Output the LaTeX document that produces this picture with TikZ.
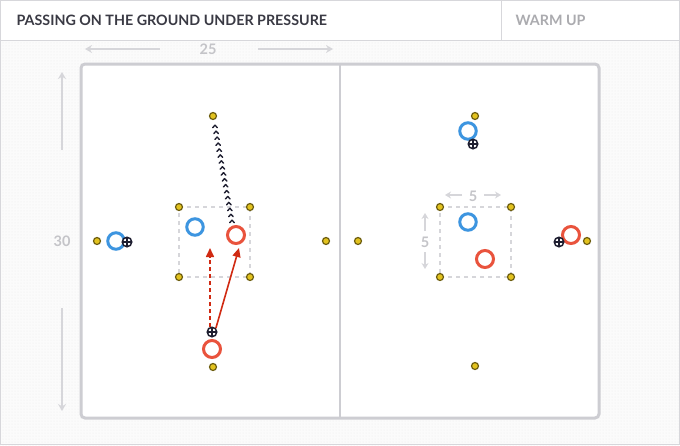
\documentclass[tikz,border=0pt]{standalone}
\usepackage{fontspec}
\setmainfont{Lato}
\usetikzlibrary{arrows.meta,patterns}
\definecolor{bluep}{HTML}{3D95E0}
\definecolor{redp}{HTML}{E9533D}
\definecolor{dimg}{HTML}{D6D6DA}
\definecolor{dimt}{HTML}{C4C4C8}
\definecolor{fieldline}{HTML}{CDCDD2}
\definecolor{conefill}{HTML}{E2C21E}
\definecolor{coneline}{HTML}{6E5E10}
\definecolor{ttl}{HTML}{3A3A44}
\definecolor{sub}{HTML}{ABABAF}
\definecolor{bgdot}{HTML}{ECECEE}
\definecolor{bgfill}{HTML}{FBFBFB}
\definecolor{ballc}{HTML}{1E1E30}
\definecolor{arrred}{HTML}{D02A12}
\tikzset{
  cone/.style={circle,draw=coneline,fill=conefill,line width=1.2pt,minimum size=7pt,inner sep=0pt},
  bluepl/.style={circle,draw=bluep,line width=3pt,minimum size=16.5pt,inner sep=0pt},
  redpl/.style={circle,draw=redp,line width=3pt,minimum size=17pt,inner sep=0pt},
  ballnode/.style={circle,draw=ballc,fill=white,line width=1.5pt,minimum size=9.5pt,inner sep=0pt,
    path picture={\draw[ballc,line width=1.2pt] (path picture bounding box.north) -- (path picture bounding box.south)
      (path picture bounding box.west) -- (path picture bounding box.east);}},
  dimarrow/.style={draw=dimg,line width=2pt,-{Stealth[length=7pt,width=8pt]}},
  dimlabel/.style={text=dimt,font=\fontsize{14.5}{14.5}\bfseries\selectfont,inner sep=1pt},
  gridsq/.style={draw=dimg,line width=1.6pt,dash pattern=on 4pt off 4pt},
  passarrow/.style={draw=arrred,line width=1.6pt,-{Triangle[length=9pt,width=8pt]}},
  chev/.style={draw=ballc,line width=1.4pt,line cap=round,line join=round}
}
\begin{document}
\begin{tikzpicture}[x=1pt,y=-1pt]
\useasboundingbox (0,0) rectangle (680,445);
% background
\fill[white] (0,0) rectangle (680,445);
\fill[bgfill] (0,40) rectangle (680,445);
\fill[pattern=dots,pattern color=bgdot] (0,40) rectangle (680,445);
\draw[fieldline!80,line width=1pt] (0.5,0.5) rectangle (679.5,444.5);
\draw[fieldline!80,line width=1pt] (0,40) -- (680,40);
\draw[fieldline!80,line width=1pt] (501,0) -- (501,40);
\node[anchor=west,text=ttl,font=\fontsize{14.3}{15}\bfseries\selectfont] (title) at (13,20) {PASSING ON THE GROUND UNDER PRESSURE};
\node[anchor=west,text=sub,font=\fontsize{14.3}{15}\bfseries\selectfont] (warm) at (512,20) {WARM UP};
% field
\draw[fieldline,fill=white,line width=3pt,rounded corners=4pt] (81,64) rectangle (599,418);
\draw[fieldline,line width=1.5pt] (340,64) -- (340,418);
% dimensions
\node[dimlabel] (d25) at (208,49) {25};
\coordinate (d25l) at (85,49); \coordinate (d25r) at (333,49);
\draw[dimarrow] (160,49) -- (d25l);
\draw[dimarrow] (258,49) -- (d25r);
\node[dimlabel] (d30) at (62,241) {30};
\coordinate (d30t) at (62,72); \coordinate (d30b) at (62,411);
\draw[dimarrow] (62,150) -- (d30t);
\draw[dimarrow] (62,308) -- (d30b);
% left grid
\coordinate (g1) at (179,207);
\coordinate (g2) at (250,207);
\coordinate (g3) at (250,277);
\coordinate (g4) at (179,277);
\draw[gridsq] (g1) -- (g2) -- (g3) -- (g4) -- cycle;
\node[cone] (c1) at (g1) {};
\node[cone] (c2) at (g2) {};
\node[cone] (c3) at (g3) {};
\node[cone] (c4) at (g4) {};
\node[cone] (lt) at (213,116) {};
\node[cone] (lb) at (213,367) {};
\node[cone] (ll) at (97,241) {};
\node[cone] (lr) at (326,241) {};
\node[bluepl] (b1) at (195,227) {};
\node[redpl] (r1) at (236,235) {};
\node[bluepl] (b2) at (116,241) {};
\node[ballnode] (ball2) at (127,242) {};
\node[redpl] (r2) at (212,349) {};
\node[ballnode] (ball1) at (212,332) {};
% chevrons (dribble)
\foreach \i in {0,...,16}{
  \pgfmathsetmacro{\px}{215+\i*(232-215)/16}
  \pgfmathsetmacro{\py}{126+\i*(221-126)/16}
  \draw[chev] (\px-2.3,\py+1.6) -- (\px,\py-0.8) -- (\px+2.3,\py+1.6);
}
% passes
\coordinate (s1) at (210,327);
\coordinate (t1) at (210,248);
\coordinate (t2) at (239,248);
\draw[passarrow,dash pattern=on 4pt off 3pt] (s1) -- (t1);
\draw[passarrow] (ball1.north east) -- (t2);
% right grid
\coordinate (h1) at (440,207);
\coordinate (h2) at (511,207);
\coordinate (h3) at (511,277);
\coordinate (h4) at (440,277);
\draw[gridsq] (h1) -- (h2) -- (h3) -- (h4) -- cycle;
\node[cone] (k1) at (h1) {};
\node[cone] (k2) at (h2) {};
\node[cone] (k3) at (h3) {};
\node[cone] (k4) at (h4) {};
\node[dimlabel] (d5h) at (473,196) {5};
\coordinate (d5l) at (445,195); \coordinate (d5r) at (501,195);
\draw[dimarrow,line width=1.6pt,-{Stealth[length=6pt,width=7pt]}] (462,195) -- (d5l);
\draw[dimarrow,line width=1.6pt,-{Stealth[length=6pt,width=7pt]}] (484,195) -- (d5r);
\node[dimlabel] (d5v) at (425,242) {5};
\coordinate (d5t) at (425,213); \coordinate (d5b) at (425,269);
\draw[dimarrow,line width=1.6pt,-{Stealth[length=6pt,width=7pt]}] (425,231) -- (d5t);
\draw[dimarrow,line width=1.6pt,-{Stealth[length=6pt,width=7pt]}] (425,252) -- (d5b);
\node[cone] (rt) at (475,116) {};
\node[cone] (rb) at (475,366) {};
\node[cone] (rl) at (358,241) {};
\node[cone] (rr) at (587,241) {};
\node[bluepl] (b3) at (468,131) {};
\node[ballnode] (ball3) at (473,144) {};
\node[bluepl] (b4) at (468,222) {};
\node[redpl] (r3) at (485,259) {};
\node[redpl] (r4) at (571,235) {};
\node[ballnode] (ball4) at (559,242) {};
\end{tikzpicture}
\end{document}
